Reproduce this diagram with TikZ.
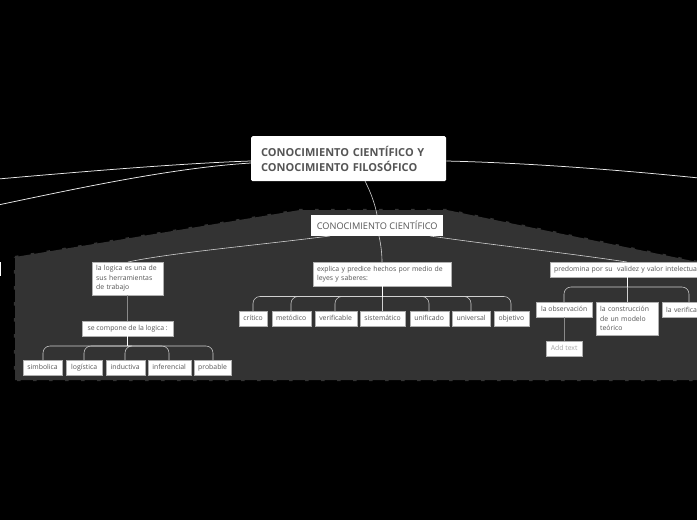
\documentclass[tikz,border=0pt]{standalone}
\usepackage{fontspec}
\setmainfont{Open Sans}
\definecolor{panel}{HTML}{333333}
\definecolor{ink}{HTML}{555555}
\definecolor{linkc}{HTML}{D0D0D0}
\definecolor{stemc}{HTML}{8A8A8A}
\definecolor{boxedge}{HTML}{B0B0B0}
\tikzset{
  rootbox/.style={draw=none,fill=white,rounded corners=1.5pt,anchor=north west,inner sep=0pt,inner xsep=10pt,text=ink,align=left,font=\fontsize{11}{15}\selectfont\bfseries},
  mainbox/.style={draw=none,fill=white,anchor=north west,inner sep=0pt,text=ink,align=center,font=\fontsize{9.2}{11}\selectfont},
  para/.style={draw=boxedge,line width=0.3pt,fill=white,anchor=north west,inner sep=0pt,inner xsep=4pt,text=ink,align=left,font=\fontsize{6.87}{9.5}\selectfont},
  leaf/.style={para,inner xsep=0pt,align=center,text height=6.2pt,text depth=1.6pt},
  link/.style={draw=linkc,line width=0.6pt},
  edgewhite/.style={draw=white!92!black,line width=0.75pt},
  stem/.style={draw=stemc,line width=1.2pt},
  branch/.style={draw=linkc,line width=0.55pt,rounded corners=7pt},
  hubline/.style={draw=white,line width=0.9pt}
}
\begin{document}
\begin{tikzpicture}[x=1pt,y=-1pt]
\useasboundingbox (0,0) rectangle (697,520);
\clip (0,0) rectangle (697,520);
\fill[black] (0,0) rectangle (697,520);
% panel
\path[fill=panel,draw=panel,line width=2.2pt,dash pattern=on 3.5pt off 12.5pt]
  (15,257) -- (300,210) -- (447,210) -- (760,275) -- (760,380) -- (15,380) -- cycle;
% free ends
\coordinate (endA) at (-2,179);
\coordinate (endB) at (-2,205);
\coordinate (endC) at (699,178);
% nodes
\node[rootbox,minimum width=195pt,minimum height=45pt,text width=175pt] (root) at (251,136) {CONOCIMIENTO CIENTÍFICO Y\\CONOCIMIENTO FILOSÓFICO};
\node[mainbox,minimum width=132pt,minimum height=21pt] (cc) at (311,215) {CONOCIMIENTO CIENTÍFICO};
\node[para,minimum width=71pt,minimum height=33pt,text width=63pt] (logica) at (92,262) {la logica es una de\\sus herramientas\\de trabajo};
\node[leaf,minimum width=91pt,minimum height=15pt] (se) at (82,320.5) {se compone de la logica :};
\node[leaf,minimum width=39pt,minimum height=15pt] (l1) at (23,360) {simbolica};
\node[leaf,minimum width=36pt,minimum height=15pt] (l2) at (66,360) {logística};
\node[leaf,minimum width=39pt,minimum height=15pt] (l3) at (105.5,360) {inductiva};
\node[leaf,minimum width=43pt,minimum height=15pt] (l4) at (147.5,360) {inferencial};
\node[leaf,minimum width=37pt,minimum height=15pt] (l5) at (194,360) {probable};
\node[para,minimum width=138pt,minimum height=24pt,text width=130pt] (exp) at (313,262) {explica y predice hechos por medio de\\leyes y saberes:};
\node[leaf,minimum width=28pt,minimum height=15pt] (m1) at (239,311) {crítico};
\node[leaf,minimum width=39pt,minimum height=15pt] (m2) at (271.5,311) {metódico};
\node[leaf,minimum width=42pt,minimum height=15pt] (m3) at (314.5,311) {verificable};
\node[leaf,minimum width=45pt,minimum height=15pt] (m4) at (360,311) {sistemático};
\node[leaf,minimum width=39pt,minimum height=15pt] (m5) at (409.5,311) {unificado};
\node[leaf,minimum width=38pt,minimum height=15pt] (m6) at (452,311) {universal};
\node[leaf,minimum width=34.5pt,minimum height=15pt] (m7) at (494,311) {objetivo};
\node[para,minimum width=160pt,minimum height=14.5pt,text width=152pt] (pre) at (550,262) {predomina por su\ \ validez y valor intelectual};
\node[leaf,minimum width=56pt,minimum height=14.5pt] (r1) at (536,302) {la observación};
\node[para,minimum width=62pt,minimum height=33pt,text width=54pt] (r2) at (596,302) {la construcción\\de un modelo\\teórico};
\node[para,minimum width=54pt,minimum height=14.5pt,text width=46pt] (r3) at (662,302) {la verificación};
\node[leaf,minimum width=36pt,minimum height=15pt,text=black!35] (add) at (546,341) {Add text};
\node[draw=none,fill=white,minimum width=6pt,minimum height=14pt,inner sep=0pt,anchor=north east] (cut) at (1,262) {};
% connectors
\draw[edgewhite] (root.west|-0,161) .. controls (190,163) and (100,170) .. (endA);
\draw[edgewhite] (root.west|-0,163) .. controls (170,168) and (70,190) .. (endB);
\draw[edgewhite] (root.east|-0,161) .. controls (530,163) and (620,170) .. (endC);
\draw[link] (365,181) .. controls (371,193) and (375,204) .. (cc.north-|377,0);
\draw[link] (379,236) .. controls (381,245) and (382,254) .. (exp.north-|382,0);
\draw[link] (330,236) .. controls (250,246) and (170,253) .. (logica.north-|128,0);
\draw[link] (430,236) .. controls (500,246) and (560,252) .. (pre.north-|627,0);
\draw[stem] (logica.south-|127.7,0) -- (se.north-|127.7,0);
\draw[stem] (r1.south) -- (add.north);
% tree under se
\coordinate (hubL) at (127.7,346);
\foreach \c/\x in {l1/43,l2/84,l4/169,l5/213}{
  \draw[branch] (hubL) -| (\c.north-|\x,0);
}
\draw[branch] (hubL) -| (l3.north-|125,0);
\draw[hubline] (se.south-|127.7,0) -- (hubL);
% tree under explica
\coordinate (hubM) at (382.7,296.5);
\foreach \c/\x in {m1/253,m2/291,m3/335,m5/429,m6/471,m7/511}{
  \draw[branch] (hubM) -| (\c.north-|\x,0);
}
\draw[branch] (hubM) -- (m4.north-|382.7,0);
\draw[hubline] (exp.south-|382.7,0) -- (hubM);
% tree under predomina
\coordinate (hubR) at (627,287);
\draw[branch] (hubR) -| (r1.north-|564,0);
\draw[branch] (hubR) -- (r2.north-|627,0);
\draw[branch] (hubR) -| (r3.north-|689,0);
\draw[hubline] (pre.south-|627,0) -- (hubR);
\end{tikzpicture}
\end{document}
